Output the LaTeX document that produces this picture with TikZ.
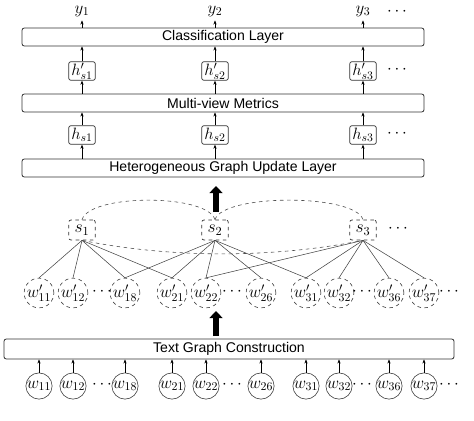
\RequirePackage{fix-cm}
\documentclass[tikz,border=0pt]{standalone}
\usepackage{fontspec}
\newfontfamily\boxfont{Liberation Sans}
\usetikzlibrary{arrows.meta, calc}

\begin{document}
\begin{tikzpicture}[x=0.03cm, y=-0.03cm,
        layer/.style={
            draw=black!80, rounded corners=2pt, line width=0.7pt,
            minimum width=12.06cm, minimum height=0.54cm,
            inner sep=0pt, font=\boxfont\fontsize{12}{14}\selectfont
        },
        hbox/.style={
            draw=black!80, rounded corners=2pt, line width=0.6pt,
            minimum width=0.8cm, minimum height=0.56cm, inner xsep=1pt, inner ysep=0pt,
            font=\fontsize{14}{16}\selectfont
        },
        sbox/.style={
            draw=black!80, dashed, rounded corners=2pt, line width=0.6pt,
            minimum width=0.8cm, minimum height=0.6cm, inner sep=0pt,
            font=\fontsize{15}{17}\selectfont
        },
        wnode/.style={
            circle, draw=black!80, line width=0.5pt,
            minimum size=0.78cm, inner sep=0pt,
            font=\fontsize{14.5}{16}\selectfont
        },
        arr/.style={-{Stealth[length=3.5pt,width=2.8pt]}, line width=0.5pt},
        bigarr/.style={-{Triangle[length=6pt,width=11pt]}, line width=4.5pt},
        dotlbl/.style={font=\fontsize{14.5}{16}\selectfont}
    ]
    \useasboundingbox (0,0) rectangle (474,421);

    % layers
    \node[layer] (cls) at (223,37) {Classification Layer};
    \node[layer] (mvm) at (223,103) {Multi-view Metrics};
    \node[layer] (hgu) at (223,168) {Heterogeneous Graph Update Layer};
    \node[layer, minimum width=13.5cm, minimum height=0.6cm] (tgc) at (229,349) {Text Graph Construction};

    % sentence columns
    \foreach \i/\x in {1/82, 2/215, 3/363} {
        \node[dotlbl] (y\i) at (\x,11) {$y_{\i}$};
        \node[hbox] (hp\i) at (\x,71) {$h'_{s\i}$};
        \node[hbox] (h\i) at (\x,135) {$h_{s\i}$};
        \node[sbox] (s\i) at (\x,230) {$s_{\i}$};
        \draw[arr] (cls.north -| y\i) -- (y\i.south);
        \draw[arr] (hp\i) -- (cls.south -| hp\i);
        \draw[arr] (mvm.north -| hp\i) -- (hp\i);
        \draw[arr] (h\i) -- (mvm.south -| h\i);
        \draw[arr] (hgu.north -| h\i) -- (h\i);
    }
    \node[dotlbl] (yd) at (397,12) {$\cdots$};
    \node[dotlbl] (hpd) at (397,70) {$\cdots$};
    \node[dotlbl] (hd) at (397,134) {$\cdots$};
    \node[dotlbl] (sd) at (398,229) {$\cdots$};

    % word nodes
    \foreach \i/\x in {11/39, 12/73, 18/125, 21/172, 22/206, 26/261, 31/306, 32/339, 36/389, 37/424} {
        \node[wnode, dashed] (wp\i) at (\x,293) {$w'_{\i}$};
        \node[wnode] (w\i) at (\x,386) {$w_{\i}$};
        \draw[arr] (w\i) -- (tgc.south -| w\i);
    }
    \foreach \x [count=\k] in {102, 232, 362, 449} {
        \node[dotlbl] (wpd\k) at (\x,292) {$\cdots$};
        \node[dotlbl] (wd\k) at (\x,385) {$\cdots$};
    }

    % sentence-word edges
    \foreach \s/\w in {1/11, 1/12, 1/18, 1/21, 2/18, 2/21, 2/22, 2/26, 2/31, 3/22, 3/31, 3/32, 3/36, 3/37}
        \draw[black!75, line width=0.45pt] (s\s.south) -- (wp\w.north);

    % sentence-sentence edges
    \draw[black!70, dashed, line width=0.5pt] (s1.north) .. controls ($(s1.north)+(8,-26)$) and ($(s2.north)+(-8,-26)$) .. (s2.north);
    \draw[black!70, dashed, line width=0.5pt] (s2.north) .. controls ($(s2.north)+(8,-26)$) and ($(s3.north)+(-8,-26)$) .. (s3.north);
    \draw[black!70, dashed, line width=0.5pt] (s1.south) .. controls ($(s1.south)+(90,18)$) and ($(s3.south)+(-90,18)$) .. (s3.south);

    % big arrows
    \coordinate (b1) at (216,212);
    \coordinate (t1) at (216,186);
    \coordinate (b2) at (216,336);
    \coordinate (t2) at (216,311);
    \draw[bigarr] (b1) -- (t1);
    \draw[bigarr] (b2) -- (t2);
\end{tikzpicture}
\end{document}
